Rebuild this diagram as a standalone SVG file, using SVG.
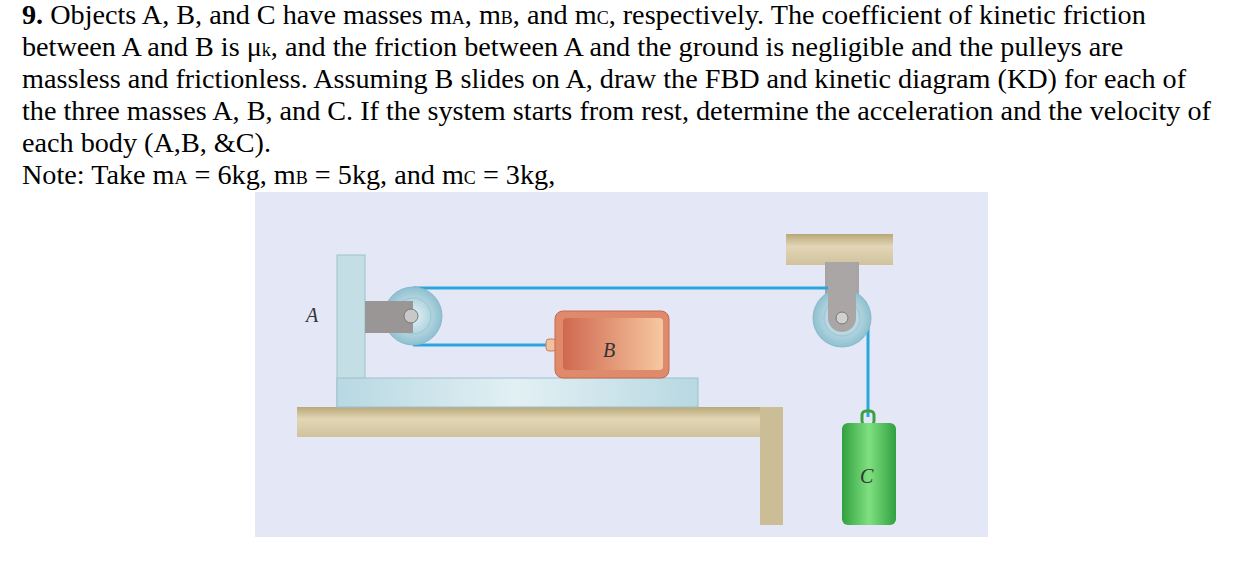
<svg xmlns="http://www.w3.org/2000/svg" width="1247" height="567" viewBox="0 0 1247 567">
<defs>
<style>
.t{font-family:"Liberation Serif",serif;font-size:28.2px;fill:#000}
.s{font-size:18px}
.lbl{font-family:"Liberation Serif",serif;font-style:italic;font-size:20px;fill:#333}
.rope{stroke:#2aa6dc;stroke-width:3;fill:none}
</style>
<linearGradient id="gA" x1="0" y1="0" x2="1" y2="0"><stop offset="0" stop-color="#b8d8e2"/><stop offset="0.5" stop-color="#e2f0f4"/><stop offset="1" stop-color="#b8d8e2"/></linearGradient>
<linearGradient id="gT" x1="0" y1="0" x2="0" y2="1"><stop offset="0" stop-color="#b8a878"/><stop offset="0.4" stop-color="#e2d6b6"/><stop offset="1" stop-color="#d0c29c"/></linearGradient>
<linearGradient id="gB" x1="0" y1="0" x2="1" y2="0"><stop offset="0" stop-color="#d06850"/><stop offset="1" stop-color="#f6c8a0"/></linearGradient>
<linearGradient id="gC" x1="0" y1="0" x2="1" y2="0"><stop offset="0" stop-color="#30a040"/><stop offset="0.5" stop-color="#80e080"/><stop offset="1" stop-color="#30a040"/></linearGradient>
<radialGradient id="gP"><stop offset="0" stop-color="#e8f4f8"/><stop offset="1" stop-color="#8fc0d0"/></radialGradient>
</defs>
<rect width="1247" height="567" fill="#fff"/>
<g id="text">
<text class="t" x="22" y="24"><tspan font-weight="bold">9.</tspan> Objects A, B, and C have masses m<tspan class="s">A</tspan>, m<tspan class="s">B</tspan>, and m<tspan class="s">C</tspan>, respectively. The coefficient of kinetic friction</text>
<text class="t" x="22" y="56">between A and B is μ<tspan class="s">k</tspan>, and the friction between A and the ground is negligible and the pulleys are</text>
<text class="t" x="22" y="88">massless and frictionless. Assuming B slides on A, draw the FBD and kinetic diagram (KD) for each of</text>
<text class="t" x="22" y="120">the three masses A, B, and C. If the system starts from rest, determine the acceleration and the velocity of</text>
<text class="t" x="22" y="152">each body (A,B, &amp;C).</text>
<text class="t" x="22" y="184">Note: Take m<tspan class="s">A</tspan> = 6kg, m<tspan class="s">B</tspan> = 5kg, and m<tspan class="s">C</tspan> = 3kg,</text>
</g>
<rect x="255" y="192" width="733" height="345" fill="#e4e8f6"/>
<g id="ground">
<rect x="297" y="407" width="486" height="30" fill="url(#gT)"/>
<rect x="760" y="407" width="23" height="118" fill="#cbbd95"/>
</g>
<g id="ceiling"><rect x="786" y="234" width="107" height="31" fill="url(#gT)"/><rect x="825" y="262" width="34" height="56" fill="#a8a4a4"/></g>
<g id="A">
<rect x="337" y="255" width="28" height="152" fill="#c4dee6" stroke="#9cc0cc"/>
<rect x="337" y="378" width="361" height="29" fill="url(#gA)" stroke="#9cc0cc"/>
<text class="lbl" x="306" y="322">A</text>
</g>
<g id="connectors">
<path class="rope" d="M413 288 H842"/>
<path class="rope" d="M413 345 H548"/>
<path class="rope" d="M868 318 V417"/>
</g>
<g id="pulleyL">
<circle cx="413" cy="316" r="29" fill="url(#gP)" stroke="#8ab8c8"/>
<circle cx="413" cy="316" r="18" fill="none" stroke="#9cc4d2"/>
<rect x="365" y="301" width="48" height="32" fill="#9a9696"/>
<circle cx="411" cy="316" r="7" fill="#c8c8c8" stroke="#777"/>
</g>
<g id="pulleyR">
<circle cx="842" cy="318" r="29" fill="url(#gP)" stroke="#8ab8c8"/>
<circle cx="842" cy="318" r="18" fill="none" stroke="#9cc4d2"/>
<path d="M828 262 V318 a14 14 0 0 0 28 0 V262 Z" fill="#aaa6a6"/>
<circle cx="842" cy="318" r="6" fill="#d0d0d0" stroke="#777"/>
</g>
<g id="B">
<rect x="546" y="339" width="10" height="12" rx="3" fill="#f0c0a0" stroke="#c08060"/>
<rect x="555" y="311" width="114" height="67" rx="8" fill="#e08a6c" stroke="#c86850"/>
<rect x="563" y="318" width="100" height="52" rx="4" fill="url(#gB)"/>
<text class="lbl" x="603" y="357">B</text>
</g>
<g id="C">
<rect x="862" y="411" width="12" height="14" rx="4" fill="none" stroke="#40a040" stroke-width="3"/>
<rect x="842" y="423" width="54" height="102" rx="6" fill="url(#gC)"/>
<text class="lbl" x="860" y="483">C</text>
</g>
</svg>
